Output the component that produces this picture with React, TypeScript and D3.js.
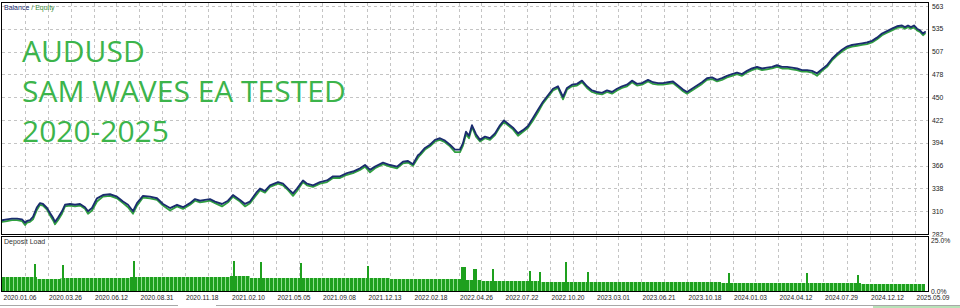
import React from "react";
import * as d3 from "d3";

const W = 960;
const H = 308;

// ---- data ----
const yTickLabels = ["282", "310", "338", "366", "394", "422", "450", "478", "507", "535", "563"];
const yTickValues = [282, 310.1, 338.2, 366.3, 394.4, 422.5, 450.6, 478.7, 506.8, 534.9, 563];

const dateLabels = [
  "2020.01.06", "2020.03.26", "2020.06.12", "2020.08.31", "2020.11.18", "2021.02.10", "2021.05.05",
  "2021.09.08", "2021.12.13", "2022.02.18", "2022.04.26", "2022.07.22", "2022.10.20", "2023.03.01",
  "2023.06.21", "2023.10.18", "2024.01.03", "2024.04.12", "2024.07.29", "2024.12.12", "2025.05.09",
];
const dateLabelDeals = [0, 91, 183, 274, 365, 457, 548, 639, 730, 822, 913, 1004, 1096, 1187, 1278, 1370, 1461, 1552, 1643, 1735, 1826];
const totalDeals = 1852;

const deals = [
  0, 10, 20, 30, 40, 46, 50, 56, 62, 70,
  76, 82, 90, 96, 102, 106, 112, 120, 126, 136,
  146, 156, 166, 172, 180, 190, 202, 216, 230, 242,
  252, 262, 270, 282, 296, 310, 322, 336, 350, 362,
  376, 386, 396, 406, 416, 426, 440, 452, 462, 476,
  486, 496, 510, 516, 526, 536, 552, 562, 572, 582,
  590, 602, 610, 622, 636, 650, 662, 676, 690, 702,
  716, 726, 736, 746, 762, 776, 790, 802, 812, 822,
  832, 836, 846, 856, 866, 876, 886, 896, 906, 916,
  922, 928, 934, 940, 948, 956, 966, 976, 986, 996,
  1004, 1012, 1022, 1032, 1042, 1052, 1062, 1072, 1082, 1092,
  1102, 1112, 1122, 1130, 1140, 1150, 1160, 1170, 1180, 1190,
  1200, 1210, 1220, 1230, 1240, 1250, 1260, 1270, 1280, 1292,
  1302, 1312, 1322, 1332, 1342, 1352, 1362, 1370, 1380, 1390,
  1400, 1410, 1420, 1430, 1440, 1450, 1460, 1470, 1480, 1490,
  1500, 1510, 1520, 1530, 1540, 1550, 1560, 1570, 1580, 1590,
  1600, 1610, 1620, 1630, 1640, 1650, 1660, 1670, 1680, 1690,
  1700, 1710, 1720, 1730, 1740, 1750, 1760, 1770, 1780, 1790,
  1800, 1806, 1812, 1818, 1824, 1830, 1836, 1842, 1846,
];

const balance = [
  299, 300, 301, 301, 300, 296, 298, 299, 303, 315,
  320, 319, 314, 308, 302, 297, 302, 310, 318, 319,
  318, 319, 315, 310, 314, 326, 330, 331, 328, 322,
  318, 310, 320, 329, 328, 326, 319, 314, 318, 315,
  320, 325, 323, 324, 325, 322, 319, 323, 330, 324,
  319, 322, 334, 338, 335, 342, 346, 344, 338, 332,
  338, 348, 344, 342, 346, 348, 353, 353, 357, 359,
  363, 367, 361, 365, 370, 367, 365, 371, 372, 368,
  379, 381, 388, 392, 398, 400, 397, 392, 386, 386,
  394, 408, 403, 416, 405, 398, 402, 400, 406, 416,
  422, 418, 413, 406, 410, 415, 425, 435, 445, 453,
  461, 464, 451, 462, 466, 467, 471, 464, 459, 457,
  456, 459, 457, 461, 464, 466, 471, 467, 468, 472,
  469, 468, 468, 469, 470, 465, 460, 457, 461, 465,
  469, 474, 475, 472, 474, 477, 479, 481, 479, 483,
  486, 488, 486, 487, 488, 490, 488, 488, 487, 486,
  484, 484, 483, 480, 485, 490, 498, 504, 509, 513,
  515, 516, 517, 518, 520, 524, 529, 532, 535, 538,
  539, 537, 539, 537, 539, 535, 533, 529, 531,
];

const equity = [
  297, 298, 299, 299, 298, 293, 296, 297, 300, 312,
  318, 317, 312, 305, 299, 294, 299, 307, 316, 317,
  316, 317, 313, 307, 311, 322, 328, 329, 326, 320,
  315, 307, 317, 327, 326, 324, 317, 311, 316, 313,
  318, 323, 321, 322, 323, 320, 316, 321, 328, 322,
  316, 320, 331, 336, 333, 340, 344, 342, 336, 329,
  335, 346, 342, 340, 344, 346, 351, 351, 355, 357,
  361, 365, 358, 363, 368, 365, 363, 369, 370, 366,
  376, 379, 386, 390, 396, 398, 395, 390, 383, 383,
  391, 405, 400, 414, 402, 396, 400, 398, 404, 414,
  420, 416, 411, 403, 408, 413, 422, 432, 443, 451,
  459, 462, 448, 460, 464, 465, 469, 462, 457, 455,
  454, 457, 455, 459, 462, 464, 469, 465, 466, 470,
  467, 466, 466, 467, 468, 463, 458, 455, 459, 463,
  467, 472, 473, 470, 472, 475, 477, 479, 477, 481,
  484, 486, 484, 485, 486, 488, 486, 486, 485, 484,
  482, 482, 481, 477, 483, 488, 496, 502, 507, 511,
  513, 514, 515, 516, 518, 522, 527, 530, 533, 536,
  537, 535, 537, 535, 537, 533, 531, 527, 529,
];

// deposit load: [startDeal, endDeal, load %]
const loadSegments: [number, number, number][] = [
  [0, 68, 6.6],
  [68, 116, 5.6],
  [116, 256, 6.0],
  [256, 456, 6.5],
  [456, 496, 6.9],
  [496, 636, 6.1],
  [636, 776, 5.9],
  [776, 916, 5.4],
  [916, 956, 5.1],
  [956, 1076, 4.6],
  [1076, 1436, 4.0],
  [1436, 1716, 3.6],
  [1716, 1846, 3.2],
];

// spikes: [deal, load %, width in deals]
const loadSpikes: [number, number, number][] = [
  [64, 12.4, 3],
  [120, 12.0, 3],
  [262, 13.9, 3],
  [462, 13.9, 3],
  [516, 13.6, 3],
  [596, 13.1, 3],
  [730, 11.7, 3],
  [918, 11.0, 9],
  [942, 10.0, 7],
  [980, 10.0, 3],
  [1054, 9.4, 3],
  [1074, 8.9, 3],
  [1126, 13.4, 3],
  [1170, 8.9, 3],
  [1452, 8.5, 3],
  [1608, 8.2, 3],
  [1710, 7.4, 3],
];

const titleLines = ["AUDUSD", "SAM WAVES EA TESTED", "2020-2025"];

// ---- layout ----
const X0 = 2;
const X1 = 928;
const TOP_Y0 = 2.5;
const TOP_Y1 = 234;
const BOT_Y0 = 236.5;
const BOT_Y1 = 291.5;

const NAVY = "#1b2d6e";
const EQ_GREEN = "#30a040";
const BAR_DARK = "#1ea01e";
const BAR_LIGHT = "#8fe08f";
const GRID = "#c4c4c4";
const LABEL_FONT = "'Liberation Sans', Arial, sans-serif";

export default function App() {
  const x = d3.scaleLinear().domain([0, totalDeals]).range([X0, X1]);
  const y = d3.scaleLinear().domain([282, 563]).range([234, 6]);
  const yl = d3.scaleLinear().domain([0, 25]).range([291, 237]);

  const n = Math.min(deals.length, balance.length, equity.length);
  const idx = d3.range(n);
  const line = (vals: number[]) =>
    d3
      .line<number>()
      .x((i) => x(deals[i]))
      .y((i) => y(vals[i]))(idx) || "";

  const gridDeals: number[] = [];
  for (let i = 0; i < dateLabelDeals.length; i++) {
    if (i > 0) gridDeals.push(dateLabelDeals[i]);
    if (i < dateLabelDeals.length - 1) gridDeals.push((dateLabelDeals[i] + dateLabelDeals[i + 1]) / 2);
  }

  const levelAt = (d: number) => {
    const s = loadSegments.find((sg) => d >= sg[0] && d < sg[1]);
    return s ? s[2] : 0;
  };
  const slotDeals = d3.range(0, 1846, 8);
  const slotW = x(6) - x(0);

  return (
    <svg
      width={W}
      height={H}
      viewBox={`0 0 ${W} ${H}`}
      style={{ position: "absolute", left: 0, top: 0, background: "#fff" }}
    >
      <defs>
        <clipPath id="topClip">
          <rect x={X0} y={TOP_Y0} width={X1 - X0} height={TOP_Y1 - TOP_Y0} />
        </clipPath>
        <clipPath id="lbl282">
          <rect x={900} y={0} width={60} height={236.5} />
        </clipPath>
      </defs>
      <rect x={0} y={0} width={W} height={H} fill="#fff" />

      {/* grid top */}
      <g stroke={GRID} strokeWidth={1} strokeDasharray="3,3" shapeRendering="crispEdges">
        {yTickValues.slice(1).map((v, i) => (
          <line key={"h" + i} x1={X0} x2={X1} y1={Math.round(y(v)) + 0.5} y2={Math.round(y(v)) + 0.5} />
        ))}
        {gridDeals.map((d, i) => (
          <line key={"v" + i} x1={Math.round(x(d)) + 0.5} x2={Math.round(x(d)) + 0.5} y1={TOP_Y0} y2={TOP_Y1} />
        ))}
        {gridDeals.map((d, i) => (
          <line key={"vb" + i} x1={Math.round(x(d)) + 0.5} x2={Math.round(x(d)) + 0.5} y1={BOT_Y0} y2={BOT_Y1} />
        ))}
      </g>

      {/* title */}
      <g fontFamily="'Open Sans', sans-serif" fontSize={30} fill="#3cb44b">
        {titleLines.map((t, i) => (
          <text key={i} x={22} y={62 + i * 40}>
            {t}
          </text>
        ))}
      </g>

      {/* balance / equity */}
      <g clipPath="url(#topClip)" fill="none" strokeLinejoin="round" strokeLinecap="round">
        <path d={line(equity)} stroke={EQ_GREEN} strokeWidth={1.8} />
        <path d={line(balance)} stroke={NAVY} strokeWidth={1.9} />
      </g>

      {/* deposit load */}
      <g shapeRendering="crispEdges">
        {loadSegments.map((s, i) => (
          <rect
            key={"ls" + i}
            x={x(s[0])}
            width={x(s[1]) - x(s[0])}
            y={yl(s[2])}
            height={yl(0) - yl(s[2])}
            fill={BAR_LIGHT}
          />
        ))}
        {slotDeals.map((d, i) => {
          const lv = levelAt(d);
          return (
            <rect key={"b" + i} x={x(d)} width={slotW} y={yl(lv)} height={yl(0) - yl(lv)} fill={BAR_DARK} />
          );
        })}
        {loadSpikes.map((s, i) => (
          <rect
            key={"sp" + i}
            x={x(s[0])}
            width={Math.max(1.5, x(s[2]) - x(0))}
            y={yl(s[1])}
            height={yl(0) - yl(s[1])}
            fill={BAR_DARK}
          />
        ))}
      </g>

      {/* frames */}
      <g fill="none" stroke="#000" strokeWidth={1} shapeRendering="crispEdges">
        <rect x={1.5} y={TOP_Y0} width={X1 - 1} height={TOP_Y1 - TOP_Y0} />
        <rect x={1.5} y={BOT_Y0} width={X1 - 1} height={BOT_Y1 - BOT_Y0} />
      </g>

      {/* y labels */}
      <g fontFamily={LABEL_FONT} fontSize={6.8} fill="#222">
        {yTickValues.map((v, i) => (
          <text
            key={"yl" + i}
            x={932}
            y={y(v) + 2.6}
            clipPath={i === 0 ? "url(#lbl282)" : undefined}
          >
            {yTickLabels[i]}
          </text>
        ))}
        <text x={931} y={243}>25.0%</text>
        <text x={931} y={294}>0.0%</text>
      </g>

      {/* x labels */}
      <g fontFamily={LABEL_FONT} fontSize={6.6} fill="#222">
        {dateLabels.map((t, i) => (
          <text key={"xl" + i} x={x(dateLabelDeals[i]) + 1.5} y={300}>
            {t}
          </text>
        ))}
      </g>

      {/* panel captions */}
      <g fontFamily={LABEL_FONT} fontSize={7}>
        <text x={4} y={10}>
          <tspan fill={NAVY}>Balance</tspan>
          <tspan fill="#3a8a3a"> / Equity</tspan>
        </text>
        <text x={4} y={244} fill="#333">
          Deposit Load
        </text>
      </g>

      {/* bottom strip */}
      <g shapeRendering="crispEdges">
        <line x1={0} x2={178} y1={305.5} y2={305.5} stroke="#a8a8a8" />
        <line x1={216} x2={W} y1={305.5} y2={305.5} stroke="#a8a8a8" />
        <rect x={873} y={306} width={87} height={2} fill="#b8e2b8" />
      </g>
    </svg>
  );
}
